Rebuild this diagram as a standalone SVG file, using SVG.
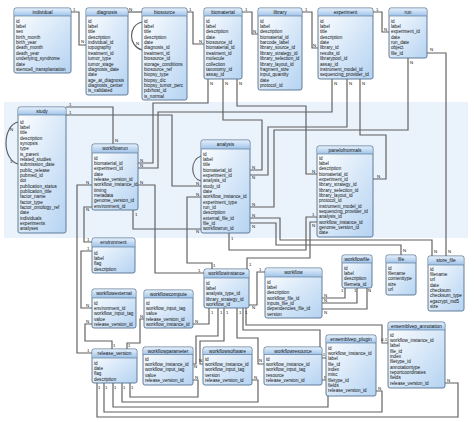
<svg xmlns="http://www.w3.org/2000/svg" width="474" height="422" viewBox="0 0 474 422">
<defs>
<linearGradient id="gb" x1="0" y1="0" x2="1" y2="1"><stop offset="0" stop-color="#ffffff"/><stop offset="1" stop-color="#b5d3f2"/></linearGradient>
<linearGradient id="gh" x1="0" y1="0" x2="0" y2="1"><stop offset="0" stop-color="#e2eefb"/><stop offset="1" stop-color="#9fc3ea"/></linearGradient>
</defs>
<style>
.b{fill:url(#gb);stroke:#52708f;stroke-width:0.9}
.h{fill:url(#gh)}
.hl{stroke:#52708f;stroke-width:0.6}
.t{font-family:"Liberation Sans",Arial,sans-serif;font-size:4.6px;fill:#111}
.ht{font-family:"Liberation Sans",Arial,sans-serif;font-size:4.8px;fill:#111;text-anchor:middle}
.c{fill:none;stroke:#5e5e5e;stroke-width:1.15}
.l{font-family:"Liberation Sans",Arial,sans-serif;font-size:4.4px;fill:#222}
</style>
<rect x="4" y="102" width="464" height="136" fill="#eaf3fc"/>
<g id="connectors">
<path class="c" d="M71,12 H79 V45 H86"/>
<path class="c" d="M128,12 H142"/>
<path class="c" d="M142,22 C128,25 128,46 142,50"/>
<path class="c" d="M187,12 H193 V44 H204"/>
<path class="c" d="M242,12 H252 V34 H258"/>
<path class="c" d="M302,12 H312 V48 H318"/>
<path class="c" d="M373,12 H382 V32 H389"/>
<path class="c" d="M208,79 V103 H153 V163 H138"/>
<path class="c" d="M332,79 V112 H158 V168 H138"/>
<path class="c" d="M223,79 V120 H262 V170 H250"/>
<path class="c" d="M347,79 V127 H268 V175 H250"/>
<path class="c" d="M237,79 V106 H306 V174 H317"/>
<path class="c" d="M360,79 V135 H386 V179 H373"/>
<path class="c" d="M408,58 V130 H274 V207 H250"/>
<path class="c" d="M427,53 H446 V256"/>
<path class="c" d="M66,107 H113 V144"/>
<path class="c" d="M66,115 H172 V186 H201"/>
<path class="c" d="M18,122 C2,126 2,160 18,164"/>
<path class="c" d="M201,156 C190,160 190,178 201,181"/>
<path class="c" d="M92,185 H77 V353 H92"/>
<path class="c" d="M92,207 H84 V242 H92"/>
<path class="c" d="M92,251 H81 V308 H92"/>
<path class="c" d="M92,324 H85 V341 H112 V349"/>
<path class="c" d="M144,319 H140 V343 H127 V349"/>
<path class="c" d="M204,273 H155 V185 H138"/>
<path class="c" d="M133,210 V229 H201"/>
<path class="c" d="M212,269 V263 H187 V197 H201"/>
<path class="c" d="M229,233 V250 H306 V217 H317"/>
<path class="c" d="M247,269 V258 H310 V222 H317"/>
<path class="c" d="M250,218 H280 V240 H432 V256"/>
<path class="c" d="M250,223 H276 V245 H401 V255"/>
<path class="c" d="M249,305 H257 V272 H265"/>
<path class="c" d="M322,298 H345 V288"/>
<path class="c" d="M322,303 H357 V288"/>
<path class="c" d="M322,309 H367 V288"/>
<path class="c" d="M209,308 V324 H193"/>
<path class="c" d="M218,308 V336 H196 V364 H193"/>
<path class="c" d="M224,308 V341 H200 V364 H203"/>
<path class="c" d="M237,308 V338 H258 V364 H264"/>
<path class="c" d="M243,308 V330 H320 V358 H326"/>
<path class="c" d="M246,308 V325 H382 V343 H388"/>
<path class="c" d="M97,383 V417 H458 V383 H445"/>
<path class="c" d="M104,383 V412 H382 V391 H376"/>
<path class="c" d="M113,383 V407 H328 V380 H322"/>
<path class="c" d="M122,383 V402 H258 V380 H252"/>
<path class="c" d="M130,383 V397 H198 V380 H193"/>
</g>
<g id="labels" class="l">
<text x="73" y="11">1</text><text x="81" y="43">N</text>
<text x="129" y="11">N</text><text x="136" y="45">N</text>
<text x="189" y="11">1</text><text x="199" y="43">N</text>
<text x="245" y="11">1</text><text x="253" y="33">N</text>
<text x="305" y="11">1</text><text x="313" y="47">N</text>
<text x="376" y="11">1</text><text x="384" y="31">N</text>
<text x="210" y="85">N</text><text x="225" y="85">N</text><text x="239" y="85">N</text>
<text x="334" y="85">N</text><text x="349" y="85">N</text><text x="362" y="85">N</text>
<text x="410" y="64">N</text><text x="430" y="51">N</text><text x="448" y="253">N</text>
<text x="140" y="162">N</text><text x="140" y="167">N</text><text x="140" y="184">N</text>
<text x="252" y="169">N</text><text x="252" y="179">N</text><text x="252" y="206">N</text>
<text x="252" y="217">N</text><text x="252" y="228">N</text>
<text x="312" y="173">N</text><text x="377" y="178">N</text>
<text x="69" y="106">1</text><text x="69" y="114">1</text><text x="115" y="142">N</text>
<text x="10" y="131">N</text><text x="10" y="163">1</text>
<text x="196" y="185">N</text><text x="196" y="196">N</text><text x="196" y="233">N</text>
<text x="86" y="184">N</text><text x="87" y="352">1</text>
<text x="86" y="211">N</text><text x="87" y="241">1</text>
<text x="87" y="250">1</text><text x="86" y="307">N</text>
<text x="86" y="323">N</text><text x="113" y="347">1</text>
<text x="140" y="318">N</text><text x="128" y="347">1</text>
<text x="198" y="272">1</text><text x="135" y="216">1</text>
<text x="213" y="267">1</text><text x="231" y="240">1</text><text x="249" y="266">1</text>
<text x="312" y="216">1</text><text x="312" y="227">N</text>
<text x="434" y="253">N</text><text x="403" y="252">N</text>
<text x="252" y="309">N</text><text x="259" y="271">1</text>
<text x="324" y="297">N</text><text x="324" y="302">N</text><text x="324" y="314">N</text>
<text x="341" y="292">1</text><text x="354" y="292">1</text><text x="368" y="292">N</text>
<text x="211" y="314">1</text><text x="220" y="314">1</text><text x="226" y="314">1</text><text x="239" y="314">1</text><text x="245" y="314">1</text>
<text x="195" y="323">N</text><text x="194" y="368">N</text><text x="199" y="362">N</text><text x="259" y="362">N</text>
<text x="319" y="356">0,1</text><text x="381" y="341">0,1</text>
<text x="98" y="389">1</text><text x="105" y="389">1</text><text x="114" y="389">1</text><text x="123" y="389">1</text><text x="131" y="389">1</text>
<text x="447" y="382">N</text><text x="378" y="390">N</text><text x="324" y="379">N</text><text x="254" y="379">N</text><text x="195" y="379">N</text>
</g>
<g id="individual"><rect class="b" x="14" y="8" width="57" height="65" rx="2"/><rect class="h" x="14.5" y="8.5" width="56" height="7.5" rx="1.5"/><line class="hl" x1="14" y1="16" x2="71" y2="16"/><text class="ht" x="42.5" y="13.8">individual</text>
<text class="t" y="22.7"><tspan x="16">id</tspan><tspan x="16" dy="5.35">label</tspan><tspan x="16" dy="5.35">sex</tspan><tspan x="16" dy="5.35">birth_month</tspan><tspan x="16" dy="5.35">birth_year</tspan><tspan x="16" dy="5.35">death_month</tspan><tspan x="16" dy="5.35">death_year</tspan><tspan x="16" dy="5.35">underlying_syndrome</tspan><tspan x="16" dy="5.35">date</tspan><tspan x="16" dy="5.35">stemcell_transplantation</tspan></text></g>
<g id="diagnosis"><rect class="b" x="86" y="8" width="42" height="87" rx="2"/><rect class="h" x="86.5" y="8.5" width="41" height="7.5" rx="1.5"/><line class="hl" x1="86" y1="16" x2="128" y2="16"/><text class="ht" x="107" y="13.8">diagnosis</text>
<text class="t" y="22.7"><tspan x="88">id</tspan><tspan x="88" dy="5.35">label</tspan><tspan x="88" dy="5.35">title</tspan><tspan x="88" dy="5.35">description</tspan><tspan x="88" dy="5.35">individual_id</tspan><tspan x="88" dy="5.35">topography</tspan><tspan x="88" dy="5.35">treatment_id</tspan><tspan x="88" dy="5.35">tumor_type</tspan><tspan x="88" dy="5.35">tumor_stage</tspan><tspan x="88" dy="5.35">diagnosis_date</tspan><tspan x="88" dy="5.35">date</tspan><tspan x="88" dy="5.35">age_at_diagnosis</tspan><tspan x="88" dy="5.35">diagnosis_center</tspan><tspan x="88" dy="5.35">is_validated</tspan></text></g>
<g id="biosource"><rect class="b" x="142" y="8" width="45" height="92" rx="2"/><rect class="h" x="142.5" y="8.5" width="44" height="7.5" rx="1.5"/><line class="hl" x1="142" y1="16" x2="187" y2="16"/><text class="ht" x="164.5" y="13.8">biosource</text>
<text class="t" y="22.7"><tspan x="144">id</tspan><tspan x="144" dy="5.35">label</tspan><tspan x="144" dy="5.35">title</tspan><tspan x="144" dy="5.35">description</tspan><tspan x="144" dy="5.35">date</tspan><tspan x="144" dy="5.35">diagnosis_id</tspan><tspan x="144" dy="5.35">treatment_id</tspan><tspan x="144" dy="5.35">biosource_id</tspan><tspan x="144" dy="5.35">storage_conditions</tspan><tspan x="144" dy="5.35">biosource_ref</tspan><tspan x="144" dy="5.35">biopsy_type</tspan><tspan x="144" dy="5.35">biopsy_dic</tspan><tspan x="144" dy="5.35">biopsy_tumor_perc</tspan><tspan x="144" dy="5.35">pdxhost_id</tspan><tspan x="144" dy="5.35">is_normal</tspan></text></g>
<g id="biomaterial"><rect class="b" x="204" y="8" width="38" height="71" rx="2"/><rect class="h" x="204.5" y="8.5" width="37" height="7.5" rx="1.5"/><line class="hl" x1="204" y1="16" x2="242" y2="16"/><text class="ht" x="223" y="13.8">biomaterial</text>
<text class="t" y="22.7"><tspan x="206">id</tspan><tspan x="206" dy="5.35">label</tspan><tspan x="206" dy="5.35">description</tspan><tspan x="206" dy="5.35">date</tspan><tspan x="206" dy="5.35">biosource_id</tspan><tspan x="206" dy="5.35">biomaterial_id</tspan><tspan x="206" dy="5.35">treatment_id</tspan><tspan x="206" dy="5.35">molecule</tspan><tspan x="206" dy="5.35">collection</tspan><tspan x="206" dy="5.35">taxonomy_id</tspan><tspan x="206" dy="5.35">assay_id</tspan></text></g>
<g id="library"><rect class="b" x="258" y="8" width="44" height="82" rx="2"/><rect class="h" x="258.5" y="8.5" width="43" height="7.5" rx="1.5"/><line class="hl" x1="258" y1="16" x2="302" y2="16"/><text class="ht" x="280" y="13.8">library</text>
<text class="t" y="22.7"><tspan x="260">id</tspan><tspan x="260" dy="5.35">label</tspan><tspan x="260" dy="5.35">description</tspan><tspan x="260" dy="5.35">biomaterial_id</tspan><tspan x="260" dy="5.35">barcode_label</tspan><tspan x="260" dy="5.35">library_source_id</tspan><tspan x="260" dy="5.35">library_strategy_id</tspan><tspan x="260" dy="5.35">library_selection_id</tspan><tspan x="260" dy="5.35">library_layout_id</tspan><tspan x="260" dy="5.35">fragment_size</tspan><tspan x="260" dy="5.35">input_quantity</tspan><tspan x="260" dy="5.35">date</tspan><tspan x="260" dy="5.35">protocol_id</tspan></text></g>
<g id="experiment"><rect class="b" x="318" y="8" width="55" height="71" rx="2"/><rect class="h" x="318.5" y="8.5" width="54" height="7.5" rx="1.5"/><line class="hl" x1="318" y1="16" x2="373" y2="16"/><text class="ht" x="345.5" y="13.8">experiment</text>
<text class="t" y="22.7"><tspan x="320">id</tspan><tspan x="320" dy="5.35">label</tspan><tspan x="320" dy="5.35">title</tspan><tspan x="320" dy="5.35">description</tspan><tspan x="320" dy="5.35">date</tspan><tspan x="320" dy="5.35">library_id</tspan><tspan x="320" dy="5.35">results_id</tspan><tspan x="320" dy="5.35">librarypool_id</tspan><tspan x="320" dy="5.35">assay_id</tspan><tspan x="320" dy="5.35">instrument_model_id</tspan><tspan x="320" dy="5.35">sequencing_provider_id</tspan></text></g>
<g id="run"><rect class="b" x="389" y="8" width="38" height="50" rx="2"/><rect class="h" x="389.5" y="8.5" width="37" height="7.5" rx="1.5"/><line class="hl" x1="389" y1="16" x2="427" y2="16"/><text class="ht" x="408" y="13.8">run</text>
<text class="t" y="22.7"><tspan x="391">id</tspan><tspan x="391" dy="5.35">label</tspan><tspan x="391" dy="5.35">experiment_id</tspan><tspan x="391" dy="5.35">date</tspan><tspan x="391" dy="5.35">run_date</tspan><tspan x="391" dy="5.35">object</tspan><tspan x="391" dy="5.35">file_id</tspan></text></g>
<g id="study"><rect class="b" x="18" y="107" width="48" height="126" rx="2"/><rect class="h" x="18.5" y="107.5" width="47" height="7.5" rx="1.5"/><line class="hl" x1="18" y1="115" x2="66" y2="115"/><text class="ht" x="42" y="112.8">study</text>
<text class="t" y="123.5"><tspan x="20">id</tspan><tspan x="20" dy="5.35">label</tspan><tspan x="20" dy="5.35">title</tspan><tspan x="20" dy="5.35">description</tspan><tspan x="20" dy="5.35">synopsis</tspan><tspan x="20" dy="5.35">type</tspan><tspan x="20" dy="5.35">is_parent</tspan><tspan x="20" dy="5.35">related_studies</tspan><tspan x="20" dy="5.35">submission_date</tspan><tspan x="20" dy="5.35">public_release</tspan><tspan x="20" dy="5.35">pubmed_id</tspan><tspan x="20" dy="5.35">doi</tspan><tspan x="20" dy="5.35">publication_status</tspan><tspan x="20" dy="5.35">publication_title</tspan><tspan x="20" dy="5.35">factor_name</tspan><tspan x="20" dy="5.35">factor_type</tspan><tspan x="20" dy="5.35">factor_ontology_ref</tspan><tspan x="20" dy="5.35">date</tspan><tspan x="20" dy="5.35">individuals</tspan><tspan x="20" dy="5.35">experiments</tspan><tspan x="20" dy="5.35">analyses</tspan></text></g>
<g id="workflowrun"><rect class="b" x="92" y="144" width="46" height="66" rx="2"/><rect class="h" x="92.5" y="144.5" width="45" height="8.5" rx="1.5"/><line class="hl" x1="92" y1="153" x2="138" y2="153"/><text class="ht" x="115" y="150.3">workflowrun</text>
<text class="t" y="159.5"><tspan x="94">id</tspan><tspan x="94" dy="5.35">biomaterial_id</tspan><tspan x="94" dy="5.35">experiment_id</tspan><tspan x="94" dy="5.35">date</tspan><tspan x="94" dy="5.35">release_version_id</tspan><tspan x="94" dy="5.35">workflow_instance_id</tspan><tspan x="94" dy="5.35">timing</tspan><tspan x="94" dy="5.35">metadata</tspan><tspan x="94" dy="5.35">genome_version_id</tspan><tspan x="94" dy="5.35">environment_id</tspan></text></g>
<g id="analysis"><rect class="b" x="201" y="140" width="49" height="93" rx="2"/><rect class="h" x="201.5" y="140.5" width="48" height="8.5" rx="1.5"/><line class="hl" x1="201" y1="149" x2="250" y2="149"/><text class="ht" x="225.5" y="146.3">analysis</text>
<text class="t" y="155.5"><tspan x="203">id</tspan><tspan x="203" dy="5.35">label</tspan><tspan x="203" dy="5.35">title</tspan><tspan x="203" dy="5.35">biomaterial_id</tspan><tspan x="203" dy="5.35">experiment_id</tspan><tspan x="203" dy="5.35">analysis_id</tspan><tspan x="203" dy="5.35">study_id</tspan><tspan x="203" dy="5.35">date</tspan><tspan x="203" dy="5.35">workflow_instance_id</tspan><tspan x="203" dy="5.35">experiment_type</tspan><tspan x="203" dy="5.35">run_id</tspan><tspan x="203" dy="5.35">description</tspan><tspan x="203" dy="5.35">external_file_id</tspan><tspan x="203" dy="5.35">file_id</tspan><tspan x="203" dy="5.35">workflowrun_id</tspan></text></g>
<g id="panelofnormals"><rect class="b" x="317" y="146" width="56" height="91" rx="2"/><rect class="h" x="317.5" y="146.5" width="55" height="7.5" rx="1.5"/><line class="hl" x1="317" y1="154" x2="373" y2="154"/><text class="ht" x="345" y="151.8">panelofnormals</text>
<text class="t" y="159.5"><tspan x="319">id</tspan><tspan x="319" dy="5.35">label</tspan><tspan x="319" dy="5.35">description</tspan><tspan x="319" dy="5.35">biomaterial_id</tspan><tspan x="319" dy="5.35">experiment_id</tspan><tspan x="319" dy="5.35">library_strategy_id</tspan><tspan x="319" dy="5.35">library_selection_id</tspan><tspan x="319" dy="5.35">library_layout_id</tspan><tspan x="319" dy="5.35">protocol_id</tspan><tspan x="319" dy="5.35">instrument_model_id</tspan><tspan x="319" dy="5.35">sequencing_provider_id</tspan><tspan x="319" dy="5.35">analysis_id</tspan><tspan x="319" dy="5.35">workflow_instance_id</tspan><tspan x="319" dy="5.35">genome_version_id</tspan><tspan x="319" dy="5.35">date</tspan></text></g>
<g id="environment"><rect class="b" x="92" y="238" width="43" height="35" rx="2"/><rect class="h" x="92.5" y="238.5" width="42" height="8.5" rx="1.5"/><line class="hl" x1="92" y1="247" x2="135" y2="247"/><text class="ht" x="113.5" y="244.3">environment</text>
<text class="t" y="254.5"><tspan x="94">id</tspan><tspan x="94" dy="5.35">label</tspan><tspan x="94" dy="5.35">flag</tspan><tspan x="94" dy="5.35">description</tspan></text></g>
<g id="workflowexternal"><rect class="b" x="92" y="289" width="44" height="39" rx="2"/><rect class="h" x="92.5" y="289.5" width="43" height="8.5" rx="1.5"/><line class="hl" x1="92" y1="298" x2="136" y2="298"/><text class="ht" x="114" y="295.3">workflowexternal</text>
<text class="t" y="304.5"><tspan x="94">id</tspan><tspan x="94" dy="5.35">environment_id</tspan><tspan x="94" dy="5.35">workflow_input_tag</tspan><tspan x="94" dy="5.35">value</tspan><tspan x="94" dy="5.35">release_version_id</tspan></text></g>
<g id="workflowcompute"><rect class="b" x="144" y="290" width="49" height="38" rx="2"/><rect class="h" x="144.5" y="290.5" width="48" height="7.5" rx="1.5"/><line class="hl" x1="144" y1="298" x2="193" y2="298"/><text class="ht" x="168.5" y="295.8">workflowcompute</text>
<text class="t" y="304.5"><tspan x="146">id</tspan><tspan x="146" dy="5.35">workflow_input_tag</tspan><tspan x="146" dy="5.35">value</tspan><tspan x="146" dy="5.35">release_version_id</tspan><tspan x="146" dy="5.35">workflow_instance_id</tspan></text></g>
<g id="workflowinstance"><rect class="b" x="204" y="269" width="45" height="39" rx="2"/><rect class="h" x="204.5" y="269.5" width="44" height="8.5" rx="1.5"/><line class="hl" x1="204" y1="278" x2="249" y2="278"/><text class="ht" x="226.5" y="275.3">workflowinstance</text>
<text class="t" y="284.5"><tspan x="206">id</tspan><tspan x="206" dy="5.35">label</tspan><tspan x="206" dy="5.35">analysis_type_id</tspan><tspan x="206" dy="5.35">library_strategy_id</tspan><tspan x="206" dy="5.35">workflow_id</tspan></text></g>
<g id="workflow"><rect class="b" x="265" y="268" width="57" height="50" rx="2"/><rect class="h" x="265.5" y="268.5" width="56" height="8.5" rx="1.5"/><line class="hl" x1="265" y1="277" x2="322" y2="277"/><text class="ht" x="293.5" y="274.3">workflow</text>
<text class="t" y="283.5"><tspan x="267">id</tspan><tspan x="267" dy="5.35">label</tspan><tspan x="267" dy="5.35">description</tspan><tspan x="267" dy="5.35">workflow_file_id</tspan><tspan x="267" dy="5.35">inputs_file_id</tspan><tspan x="267" dy="5.35">dependencies_file_id</tspan><tspan x="267" dy="5.35">version</tspan></text></g>
<g id="workflowfile"><rect class="b" x="342" y="255" width="30" height="33" rx="2"/><rect class="h" x="342.5" y="255.5" width="29" height="7.5" rx="1.5"/><line class="hl" x1="342" y1="263" x2="372" y2="263"/><text class="ht" x="357" y="260.8">workflowfile</text>
<text class="t" y="269.5"><tspan x="344">id</tspan><tspan x="344" dy="5.35">label</tspan><tspan x="344" dy="5.35">description</tspan><tspan x="344" dy="5.35">filemeta_id</tspan></text></g>
<g id="file"><rect class="b" x="386" y="255" width="30" height="40" rx="2"/><rect class="h" x="386.5" y="255.5" width="29" height="7.5" rx="1.5"/><line class="hl" x1="386" y1="263" x2="416" y2="263"/><text class="ht" x="401" y="260.8">file</text>
<text class="t" y="269.5"><tspan x="388">id</tspan><tspan x="388" dy="5.35">filename</tspan><tspan x="388" dy="5.35">contenttype</tspan><tspan x="388" dy="5.35">size</tspan><tspan x="388" dy="5.35">url</tspan></text></g>
<g id="store_file"><rect class="b" x="428" y="256" width="36" height="55" rx="2"/><rect class="h" x="428.5" y="256.5" width="35" height="8.5" rx="1.5"/><line class="hl" x1="428" y1="265" x2="464" y2="265"/><text class="ht" x="446" y="262.3">store_file</text>
<text class="t" y="270.5"><tspan x="430">id</tspan><tspan x="430" dy="5.35">filename</tspan><tspan x="430" dy="5.35">url</tspan><tspan x="430" dy="5.35">date</tspan><tspan x="430" dy="5.35">checksum</tspan><tspan x="430" dy="5.35">checksum_type</tspan><tspan x="430" dy="5.35">egacrypt_md5</tspan><tspan x="430" dy="5.35">size</tspan></text></g>
<g id="ensemblvep_annotation"><rect class="b" x="388" y="322" width="57" height="66" rx="2"/><rect class="h" x="388.5" y="322.5" width="56" height="7.5" rx="1.5"/><line class="hl" x1="388" y1="330" x2="445" y2="330"/><text class="ht" x="416.5" y="327.8">ensemblvep_annotation</text>
<text class="t" y="336.5"><tspan x="390">id</tspan><tspan x="390" dy="5.35">workflow_instance_id</tspan><tspan x="390" dy="5.35">label</tspan><tspan x="390" dy="5.35">file_id</tspan><tspan x="390" dy="5.35">index</tspan><tspan x="390" dy="5.35">filetype_id</tspan><tspan x="390" dy="5.35">annotationtype</tspan><tspan x="390" dy="5.35">reportcoordinates</tspan><tspan x="390" dy="5.35">fields</tspan><tspan x="390" dy="5.35">release_version_id</tspan></text></g>
<g id="ensemblvep_plugin"><rect class="b" x="326" y="335" width="50" height="61" rx="2"/><rect class="h" x="326.5" y="335.5" width="49" height="7.5" rx="1.5"/><line class="hl" x1="326" y1="343" x2="376" y2="343"/><text class="ht" x="351" y="340.8">ensemblvep_plugin</text>
<text class="t" y="349.5"><tspan x="328">id</tspan><tspan x="328" dy="5.35">workflow_instance_id</tspan><tspan x="328" dy="5.35">label</tspan><tspan x="328" dy="5.35">file_id</tspan><tspan x="328" dy="5.35">index</tspan><tspan x="328" dy="5.35">misc</tspan><tspan x="328" dy="5.35">filetype_id</tspan><tspan x="328" dy="5.35">fields</tspan><tspan x="328" dy="5.35">release_version_id</tspan></text></g>
<g id="workflowresource"><rect class="b" x="264" y="347" width="58" height="38" rx="2"/><rect class="h" x="264.5" y="347.5" width="57" height="7" rx="1.5"/><line class="hl" x1="264" y1="354.5" x2="322" y2="354.5"/><text class="ht" x="293" y="352.5">workflowresource</text>
<text class="t" y="360.5"><tspan x="266">id</tspan><tspan x="266" dy="5.35">workflow_instance_id</tspan><tspan x="266" dy="5.35">workflow_input_tag</tspan><tspan x="266" dy="5.35">resource</tspan><tspan x="266" dy="5.35">release_version_id</tspan></text></g>
<g id="workflowsoftware"><rect class="b" x="203" y="347" width="49" height="38" rx="2"/><rect class="h" x="203.5" y="347.5" width="48" height="7" rx="1.5"/><line class="hl" x1="203" y1="354.5" x2="252" y2="354.5"/><text class="ht" x="227.5" y="352.5">workflowsoftware</text>
<text class="t" y="360.5"><tspan x="205">id</tspan><tspan x="205" dy="5.35">workflow_instance_id</tspan><tspan x="205" dy="5.35">workflow_input_tag</tspan><tspan x="205" dy="5.35">version</tspan><tspan x="205" dy="5.35">release_version_id</tspan></text></g>
<g id="workflowparameter"><rect class="b" x="143" y="347" width="50" height="38" rx="2"/><rect class="h" x="143.5" y="347.5" width="49" height="7" rx="1.5"/><line class="hl" x1="143" y1="354.5" x2="193" y2="354.5"/><text class="ht" x="168" y="352.5">workflowparameter</text>
<text class="t" y="360.5"><tspan x="145">id</tspan><tspan x="145" dy="5.35">workflow_instance_id</tspan><tspan x="145" dy="5.35">workflow_input_tag</tspan><tspan x="145" dy="5.35">value</tspan><tspan x="145" dy="5.35">release_version_id</tspan></text></g>
<g id="release_version"><rect class="b" x="92" y="349" width="45" height="34" rx="2"/><rect class="h" x="92.5" y="349.5" width="44" height="8.5" rx="1.5"/><line class="hl" x1="92" y1="358" x2="137" y2="358"/><text class="ht" x="114.5" y="355.3">release_version</text>
<text class="t" y="364.5"><tspan x="94">id</tspan><tspan x="94" dy="5.35">date</tspan><tspan x="94" dy="5.35">flag</tspan><tspan x="94" dy="5.35">description</tspan></text></g>
</svg>
